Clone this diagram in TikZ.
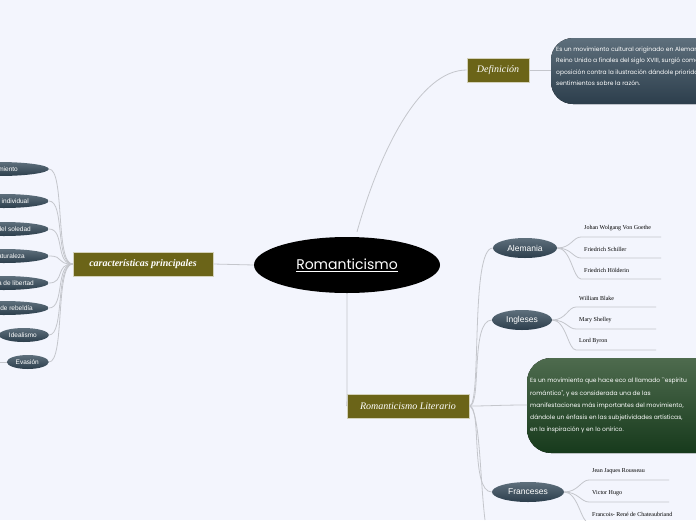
\documentclass[tikz,border=0pt]{standalone}
\usepackage{fontspec}
\setmainfont{Liberation Serif}
\newfontfamily\hand{Poppins}
\newfontfamily\sans{Liberation Sans}
\usetikzlibrary{shapes.geometric}
\definecolor{bg}{HTML}{F3F5FD}
\definecolor{olive}{HTML}{6B6418}
\definecolor{slateA}{HTML}{5E6F7C}
\definecolor{slateB}{HTML}{2C3E4C}
\definecolor{greenA}{HTML}{4E6B4E}
\definecolor{greenB}{HTML}{173A1C}
\definecolor{conn}{HTML}{C4C6CC}
\tikzset{
 obox/.style={draw=white!70!olive,line width=0.8pt,fill=olive,text=white,font=\itshape\fontsize{10}{12}\selectfont,minimum height=24pt,inner xsep=5pt},
 pill/.style={ellipse,top color=slateA,bottom color=slateB,draw=none,minimum height=14pt,inner sep=1pt},
 ptxt/.style={text=white,font=\sans\fontsize{6.5}{7}\selectfont,inner sep=0pt,anchor=east},
 cty/.style={ellipse,top color=slateA,bottom color=slateB,text=white,font=\sans\fontsize{8.5}{10}\selectfont,minimum height=20pt,inner sep=1pt},
 nm/.style={font=\fontsize{6}{7}\selectfont,anchor=west,inner sep=1pt},
 cn/.style={draw=conn,line width=0.8pt},
 btxt/.style={anchor=north west,align=left,text=white,inner sep=0pt},
}
\begin{document}
\begin{tikzpicture}[x=1pt,y=-1pt]
\fill[bg] (0,0) rectangle (696,520);
\useasboundingbox (0,0) rectangle (696,520);
% bubbles
\fill[top color=slateA,bottom color=slateB,rounded corners=22pt] (551,38) rectangle (730,104);
\node[btxt,font=\hand\fontsize{6}{11.2}\selectfont] (defb) at (556,47) {Es un movimiento cultural originado en Alemania y\\Reino Unido a finales del siglo XVIII, surgió como\\oposición contra la ilustración dándole prioridad a los\\sentimientos sobre la razón.};
\fill[top color=greenA,bottom color=greenB,rounded corners=24pt] (527,358) rectangle (730,453);
\node[btxt,font=\hand\fontsize{6}{12.2}\selectfont] (green) at (530,378) {Es un movimiento que hace eco al llamado ``espíritu\\romántico'', y es considerada una de las\\manifestaciones más importantes del movimiento,\\dándole un énfasis en las subjetividades artísticas,\\en la inspiración y en lo onírico.};
\coordinate (gl) at (527,405);
\coordinate (dl) at (551,70);
% main
\node[ellipse,fill=black,minimum width=186pt,minimum height=56pt,text=white,font=\hand\fontsize{14}{16}\selectfont] (c) at (347,265) {\underline{Romanticismo}};
\node[obox,minimum width=62pt] (def) at (498,70) {Definición};
\node[obox,minimum width=140pt,font=\bfseries\itshape\fontsize{10}{12}\selectfont] (car) at (143,264) {características principales};
\node[obox,minimum width=122pt] (lit) at (408,406) {Romanticismo Literario};
% left pills
\foreach \n/\y/\t/\w/\e in {p1/169/miento/100/18,p2/201/individual/90/29,p3/229/del soledad/90/31,p4/256/aturaleza/90/25,p5/283/a de libertad/90/34,p6/308/de rebeldía/90/33,p7/335/Idealismo/50/37,p8/362/Evasión/42/39}{
 \node[pill,minimum width=\w pt,anchor=east] (\n) at (49,\y) {};
 \node[ptxt] (\n t) at (\e,\y) {\t};
 \draw[cn] (car.west) .. controls (55,264) and (65,\y) .. (\n.east);
}
\draw[cn] (p8.west) -- (0,362);
\draw[cn] (car.east) -- (c.west);
\draw[cn] ([xshift=10pt,yshift=5pt]c.north) .. controls (380,150) and (420,70) .. (def.west);
\draw[cn] (def.east) -- (dl);
\draw[cn] (347,293) -- (347,400) -- (lit.west);
% countries
\node[cty,minimum width=64pt] (al) at (525,248) {Alemania};
\node[cty,minimum width=60pt] (in) at (522,320) {Ingleses};
\node[cty,minimum width=72pt] (fr) at (528,492) {Franceses};
\coordinate (bot) at (485,520);
\draw[cn] (lit.east) .. controls (482,406) and (470,248) .. (al.west);
\draw[cn] (lit.east) .. controls (482,406) and (470,320) .. (in.west);
\draw[cn] (lit.east) .. controls (482,406) and (470,492) .. (fr.west);
\draw[cn] (lit.east) .. controls (490,406) and (500,405) .. (gl);
\draw[cn] (lit.east) .. controls (480,410) and (480,480) .. (bot);
% names
\foreach \p/\x/\y/\t in {al/583/228/Johan Wolgang Von Goethe,al/583/249/Friedrich Schiller,al/583/270/Friedrich Hölderin,in/578/298/William Blake,in/578/320/Mary Shelley,in/578/341/Lord Byron,fr/591/471/Jean Jaques Rousseau,fr/591/493/Victor Hugo,fr/591/514/Francois- René de Chateaubriand}{
 \node[nm] (n\x\y) at (\x,\y) {\t};
 \draw[cn] (\p.east) .. controls +(14,0) and +(-8,0) .. ({\x-2},{\y+9}) -- ({\x+78},{\y+9});
}
\end{tikzpicture}
\end{document}
